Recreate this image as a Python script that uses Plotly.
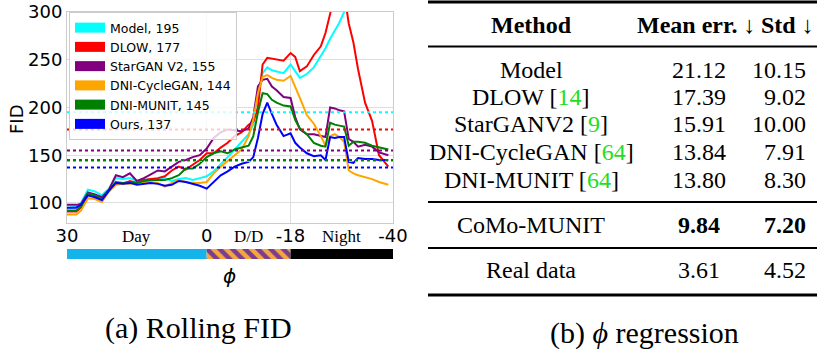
import plotly.graph_objects as go

W, H = 821, 349

# ---------------- data ----------------
phi = [30, 28, 27, 25.5, 24, 22.5, 21, 19.5, 18, 16.5, 15, 13.5, 12, 10.5, 9, 7.5, 6, 4.5, 3, 1.5,
       0, -1.5, -3, -4.5, -6, -7.5, -9, -10, -11, -12, -13, -14, -15, -16.5, -18, -19, -20, -21.5,
       -23, -24.5, -25.5, -26.5, -27.5, -28.5, -29.5, -30.5, -31.5, -32.5, -34, -35.5, -37, -39]

model = [95, 96, 100, 114, 112, 108, 115, 126, 125, 126, 123, 124, 125, 125, 126, 123, 125, 126, 124, 126,
         128, 133, 140, 148, 156, 164, 172, 182, 214, 236, 242, 239, 238, 236, 245, 238, 231, 235,
         242, 254, 262, 272, 281, 289, 300, 310, 330, 340, 350, 355, 360, 360]
dlow = [91, 91, 95, 110, 108, 104, 113, 121, 120, 123, 121, 124, 125, 126, 128, 134, 138, 135, 140, 145,
        152, 152, 158, 163, 170, 174, 182, 185, 200, 245, 252, 251, 250, 249, 257, 253, 238, 243,
        255, 264, 278, 300, 318, 330, 320, 288, 268, 240, 205, 186, 150, 138]
stargan = [98, 98, 99, 111, 109, 106, 114, 129, 127, 131, 123, 126, 130, 134, 133, 138, 143, 145, 148, 150,
           157, 168, 174, 177, 176, 175, 178, 190, 222, 229, 230, 222, 218, 211, 210, 190, 177, 172,
           172, 170, 169, 200, 199, 197, 196, 167, 164, 159, 161, 159, 153, 150]
dni_cyclegan = [88, 88, 92, 105, 104, 101, 112, 119, 120, 120, 121, 122, 122, 121, 117, 121, 124, 122, 121, 121,
                122, 131, 138, 144, 149, 156, 170, 187, 215, 232, 234, 231, 229, 228, 233, 222, 210, 192,
                183, 170, 160, 170, 172, 169, 164, 134, 131, 129, 127, 125, 122, 119]
dni_munit = [92, 92, 96, 110, 108, 104, 113, 122, 121, 122, 121, 123, 124, 124, 124, 126, 129, 136, 136, 141,
             148, 152, 154, 152, 156, 158, 160, 170, 195, 215, 214, 208, 205, 202, 201, 187, 178, 172,
             163, 160, 159, 184, 182, 181, 180, 160, 164, 164, 163, 160, 158, 156]
ours = [95, 95, 98, 108, 106, 103, 113, 121, 120, 121, 119, 120, 121, 120, 118, 119, 123, 122, 120, 118,
        115, 122, 129, 133, 138, 141, 143, 148, 168, 193, 205, 193, 182, 170, 173, 163, 158, 152,
        149, 150, 145, 169, 168, 169, 169, 143, 142, 147, 146, 146, 145, 145]

series_values = [model, dlow, stargan, dni_cyclegan, dni_munit, ours]
series_names = ["Model", "DLOW", "StarGAN V2", "DNI-CycleGAN", "DNI-MUNIT", "Ours"]
series_means = [195, 177, 155, 144, 145, 137]
series_colors = ["#00ffff", "#ff0000", "#800080", "#ffa500", "#008000", "#0000ff"]

phase_bounds = [30, 0, -18, -40]
phase_labels = ["Day", "D/D", "Night"]
phase_colors = ["#14b4ea", "#f5a640", "#000000"]
phase_patterns = ["", "\\", ""]

y_ticks = [100, 150, 200, 250, 300]

table_methods = ["Model", "DLOW", "StarGANV2", "DNI-CycleGAN", "DNI-MUNIT"]
table_refs = ["", "14", "9", "64", "64"]
table_mean = ["21.12", "17.39", "15.91", "13.84", "13.80"]
table_std = ["10.15", "9.02", "10.00", "7.91", "8.30"]
ours_row = ["CoMo-MUNIT", "9.84", "7.20"]
real_row = ["Real data", "3.61", "4.52"]

# ---------------- helpers ----------------
def X(px):
    return px / W

def Y(py):
    return 1 - py / H

SANS = "DejaVu Sans"
SERIF = "Liberation Serif"
CITE = "#22dd22"
STRIPE = "#7b3d8e"

fig = go.Figure()

# lines
for name, vals, col in zip(series_names, series_values, series_colors):
    fig.add_trace(go.Scatter(x=phi, y=vals, mode="lines", line=dict(color=col, width=2),
                             showlegend=False, hoverinfo="skip"))
# mean dotted lines
for mean, col in zip(series_means, series_colors):
    fig.add_trace(go.Scatter(x=[phase_bounds[0], phase_bounds[-1]], y=[mean, mean], mode="lines",
                             line=dict(color=col, width=2, dash="dot"), showlegend=False,
                             hoverinfo="skip"))
# legend entries (patches)
for name, mean, col in zip(series_names, series_means, series_colors):
    fig.add_trace(go.Scatter(x=[None], y=[None], mode="lines", line=dict(color=col, width=10),
                             name=f"{name}, {mean}", showlegend=True))

# phase bar (one bar per phase)
for a, b, col, pat in zip(phase_bounds[:-1], phase_bounds[1:], phase_colors, phase_patterns):
    marker = dict(color=col, line=dict(width=0))
    if pat:
        marker["pattern"] = dict(shape=pat, fgcolor=STRIPE, bgcolor=col, size=9,
                                 solidity=0.5, fillmode="replace")
    fig.add_trace(go.Bar(y=[0], base=[a], x=[b - a], orientation="h", width=1,
                         xaxis="x2", yaxis="y2", showlegend=False, hoverinfo="skip",
                         marker=marker))

xdom = [X(67), X(393)]
fig.update_layout(
    width=W, height=H, margin=dict(l=0, r=0, t=0, b=0, autoexpand=False),
    paper_bgcolor="white", plot_bgcolor="white", barmode="overlay",
    xaxis=dict(domain=xdom, range=[phase_bounds[0], phase_bounds[-1]], anchor="y",
               automargin=False, ticklabelstandoff=-4,
               tickvals=phase_bounds, ticktext=[str(b) for b in phase_bounds],
               tickfont=dict(family=SANS, size=18, color="black"),
               showgrid=True, gridcolor="#dedede", gridwidth=1, zeroline=False,
               showline=True, linecolor="#cccccc", linewidth=1, mirror=True, ticks=""),
    yaxis=dict(domain=[Y(223), Y(12)], range=[79, 300], anchor="x", automargin=False,
               tickvals=y_ticks, tickfont=dict(family=SANS, size=18, color="black"),
               showgrid=True, gridcolor="#dedede", gridwidth=1, zeroline=False,
               showline=True, linecolor="#cccccc", linewidth=1, mirror=True, ticks=""),
    xaxis2=dict(domain=xdom, range=[phase_bounds[0], phase_bounds[-1]], anchor="y2",
                visible=False, automargin=False),
    yaxis2=dict(domain=[Y(259), Y(249)], range=[-0.5, 0.5], anchor="x2", visible=False,
                automargin=False),
    legend=dict(x=X(69), y=Y(12), xanchor="left", yanchor="top",
                bgcolor="rgba(255,255,255,0.8)", bordercolor="#cccccc", borderwidth=1,
                font=dict(family=SANS, size=12.5, color="black"), tracegroupgap=0),
)

ann = []

def text_at(text, px, py, font, xanchor="center", angle=0):
    ann.append(dict(text=text, x=X(px), y=Y(py), xref="paper", yref="paper", showarrow=False,
                    xanchor=xanchor, yanchor="middle", textangle=angle, font=font))

# y title
text_at("FID", 16, 119, dict(family=SANS, size=18, color="black"), angle=-90)
# phase labels
for a, b, lab in zip(phase_bounds[:-1], phase_bounds[1:], phase_labels):
    ann.append(dict(text=lab, x=(a + b) / 2, y=Y(236), xref="x", yref="paper", showarrow=False,
                    xanchor="center", yanchor="middle",
                    font=dict(family=SERIF, size=17, color="black")))
# phi label
text_at("<i>ϕ</i>", 230, 276, dict(family=SANS, size=20, color="black"))
# captions
text_at("(a) Rolling FID", 198, 328, dict(family=SERIF, size=30, color="black"))
text_at("(b) <i>ϕ</i> regression", 644, 333, dict(family=SERIF, size=30, color="black"))

# table
COL_M, COL_MEAN, COL_STD_R = 531, 699, 808
TF = dict(family=SERIF, size=24, color="black")

text_at("<b>Method</b>", COL_M, 25, TF)
text_at("<b>Mean err.</b> ↓", 696, 25, TF)
text_at("<b>Std</b> ↓", 787, 25, TF)
row_y = [70, 97, 124, 152, 180]
for m, r, mu, sd, py in zip(table_methods, table_refs, table_mean, table_std, row_y):
    label = m if not r else f"{m} [<span style='color:{CITE}'>{r}</span>]"
    text_at(label, COL_M, py, TF)
    text_at(mu, COL_MEAN, py, TF)
    text_at(sd, COL_STD_R, py, TF, xanchor="right")
text_at(ours_row[0], COL_M, 225, TF)
text_at(f"<b>{ours_row[1]}</b>", COL_MEAN, 225, TF)
text_at(f"<b>{ours_row[2]}</b>", COL_STD_R, 225, TF, xanchor="right")
text_at(real_row[0], COL_M, 270, TF)
text_at(real_row[1], COL_MEAN, 270, TF)
text_at(real_row[2], COL_STD_R, 270, TF, xanchor="right")

shapes = []
for py, w in [(2, 3), (46.5, 2), (202, 2), (248, 2), (295, 3)]:
    shapes.append(dict(type="line", xref="paper", yref="paper", x0=X(428), x1=X(817),
                       y0=Y(py), y1=Y(py), line=dict(color="black", width=w)))

fig.update_layout(annotations=ann, shapes=shapes)
fig.write_html("out.html", config={"displayModeBar": False},
               post_script="document.body.style.margin='0';document.body.style.overflow='hidden';")
